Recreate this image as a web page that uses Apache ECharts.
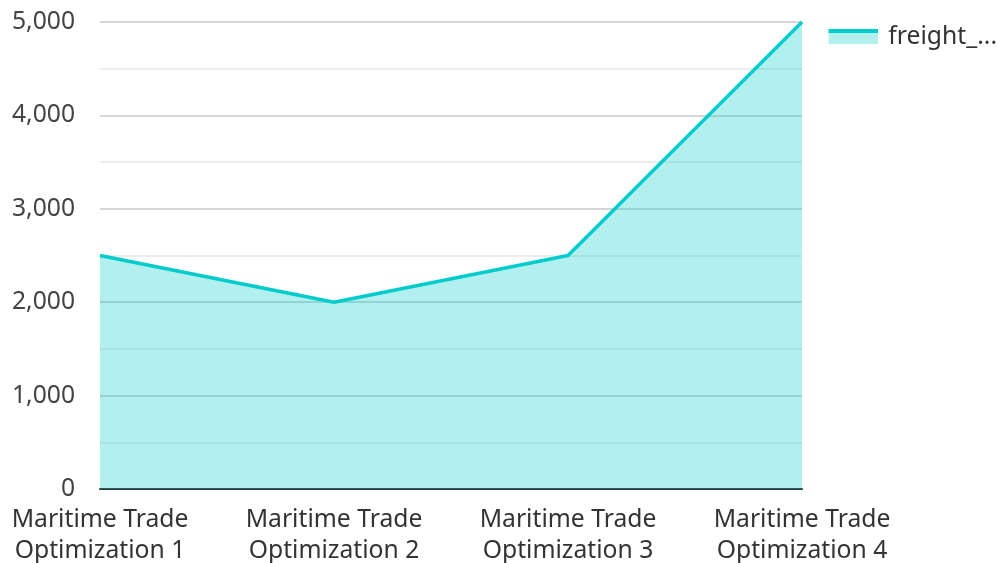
<!DOCTYPE html>
<html><head><meta charset="utf-8">
<script src="https://cdn.jsdelivr.net/npm/echarts@6/dist/echarts.min.js"></script>
<style>html,body{margin:0;padding:0;background:#fff}#c{width:997px;height:563px}</style>
</head><body><div id="c"></div>
<script>
const categories = ['Maritime Trade\nOptimization 1','Maritime Trade\nOptimization 2','Maritime Trade\nOptimization 3','Maritime Trade\nOptimization 4'];
const seriesName = 'freight_volume';
const values = [2500, 2000, 2500, 5000];
const chart = echarts.init(document.getElementById('c'));
const font = 'Noto Sans';
const fs = 24.7;
const iconSvg = 'image://data:image/svg+xml;utf8,' + encodeURIComponent('<svg xmlns="http://www.w3.org/2000/svg" width="50" height="15" viewBox="0 0 50 15"><rect x="0" y="0" width="50" height="15" fill="#00CCCC" fill-opacity="0.3"/><rect x="0" y="0" width="50" height="4" fill="#00CCCC"/></svg>');
chart.setOption({
  animation: false,
  grid: {left: 100, right: 195, top: 22, bottom: 74, outerBoundsMode: 'none', containLabel: false},
  legend: {
    right: 0, top: 24, orient: 'vertical', padding: 0,
    itemWidth: 50, itemHeight: 15, itemGap: 10,
    textStyle: {fontFamily: font, fontSize: fs, color: '#333', width: 110, overflow: 'truncate', ellipsis: '...', padding: [0, 0, 0, 5]},
    data: [{name: seriesName, icon: iconSvg}]
  },
  xAxis: {
    type: 'category', data: categories, boundaryGap: false,
    axisLine: {lineStyle: {color: '#333', width: 2}},
    axisTick: {show: false},
    axisLabel: {fontFamily: font, fontSize: fs, color: '#333', lineHeight: 31, margin: 15, interval: 0}
  },
  yAxis: {
    type: 'value', min: 0, max: 5000, interval: 1000,
    axisLine: {show: false}, axisTick: {show: false},
    axisLabel: {fontFamily: font, fontSize: fs, color: '#444', margin: 25,
      formatter: v => v.toLocaleString('en-US')},
    splitLine: {lineStyle: {color: '#c8c8c8', width: 1.5}},
    minorTick: {show: false, splitNumber: 2},
    minorSplitLine: {show: true, lineStyle: {color: '#e8e8e8', width: 1.5}}
  },
  series: [{
    name: seriesName, type: 'line', data: values, showSymbol: false, symbol: 'none',
    lineStyle: {color: '#00CCCC', width: 3.5},
    itemStyle: {color: '#00CCCC'},
    areaStyle: {color: '#00CCCC', opacity: 0.3}
  }]
});
</script></body></html>
